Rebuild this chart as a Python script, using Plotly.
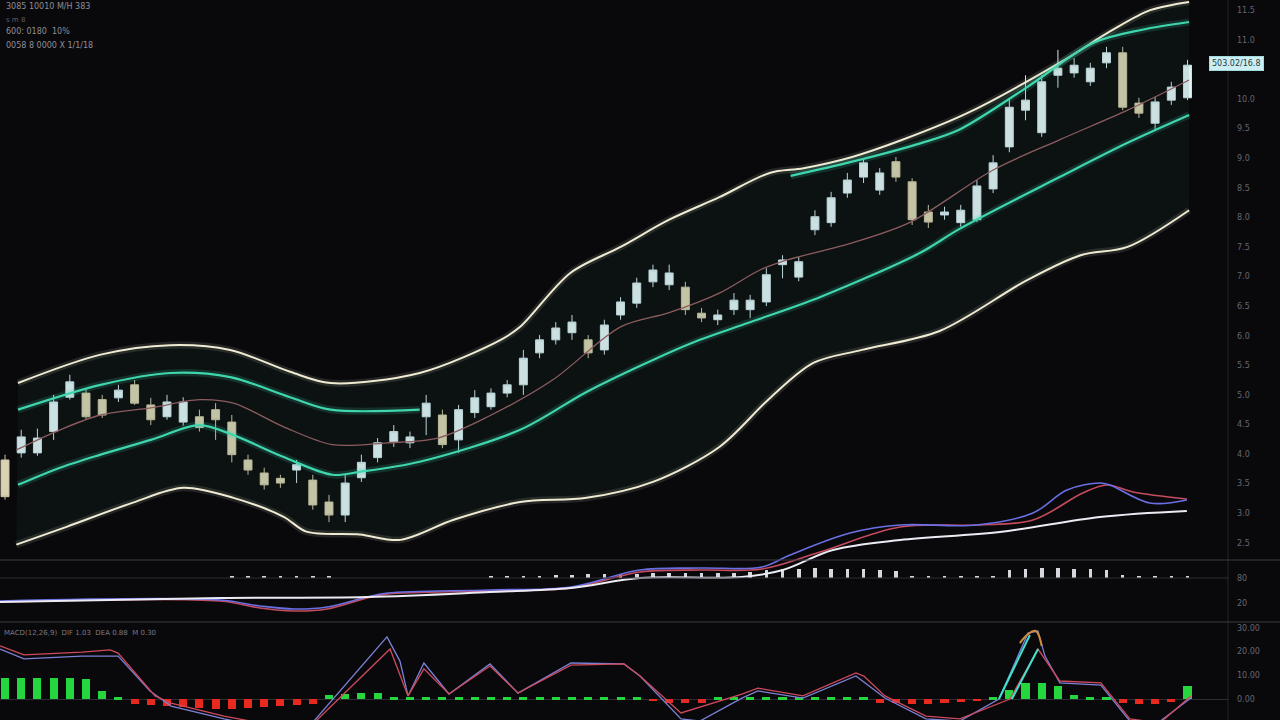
import plotly.graph_objects as go

# ---------------- data ----------------
idx = list(range(74))
open_ = [3.90, 4.02, 4.02, 4.38, 4.96, 5.03, 4.92, 4.95, 5.17, 4.83,
         4.63, 4.54, 4.63, 4.75, 4.54, 3.90, 3.68, 3.59, 3.73, 3.56,
         3.19, 2.97, 3.60, 3.94, 4.21, 4.19, 4.63, 4.66, 4.24, 4.70,
         4.80, 5.03, 5.17, 5.71, 5.93, 6.05, 5.93, 5.76, 6.35, 6.55,
         6.91, 6.86, 6.82, 6.38, 6.27, 6.44, 6.44, 6.57, 7.20, 6.99,
         7.79, 7.91, 8.41, 8.68, 8.46, 8.94, 8.60, 8.09, 8.04, 7.91,
         7.96, 8.48, 9.19, 9.81, 9.43, 10.40, 10.44, 10.29, 10.61, 10.78,
         9.93, 9.59, 9.98, 10.02]
high = [3.99, 4.41, 4.43, 5.00, 5.34, 5.11, 5.00, 5.17, 5.25, 4.95,
        5.00, 4.96, 4.75, 4.86, 4.66, 3.99, 3.77, 3.65, 3.90, 3.65,
        3.31, 3.65, 3.99, 4.27, 4.49, 4.38, 5.00, 4.75, 4.83, 5.08,
        5.11, 5.25, 5.76, 6.01, 6.23, 6.35, 6.01, 6.27, 6.65, 6.98,
        7.20, 7.20, 6.91, 6.47, 6.44, 6.72, 6.69, 7.14, 7.36, 7.33,
        8.12, 8.43, 8.75, 9.00, 8.83, 9.02, 8.66, 8.21, 8.18, 8.21,
        8.63, 9.05, 9.98, 10.40, 10.40, 10.83, 10.69, 10.61, 10.88, 10.88,
        10.02, 10.03, 10.29, 10.66]
low = [3.23, 3.94, 3.97, 4.24, 4.92, 4.58, 4.61, 4.88, 4.83, 4.49,
       4.58, 4.48, 4.38, 4.24, 3.86, 3.65, 3.40, 3.43, 3.51, 3.06,
       2.85, 2.85, 3.53, 3.86, 4.12, 4.10, 4.32, 4.10, 4.02, 4.61,
       4.75, 4.96, 5.00, 5.62, 5.85, 5.93, 5.62, 5.68, 6.27, 6.47,
       6.82, 6.77, 6.35, 6.23, 6.18, 6.35, 6.30, 6.50, 6.97, 6.92,
       7.70, 7.84, 8.33, 8.58, 8.38, 8.60, 7.87, 7.82, 7.96, 7.84,
       7.92, 8.41, 9.10, 9.64, 9.36, 10.19, 10.36, 10.22, 10.52, 9.81,
       9.68, 9.48, 9.90, 9.98]
close = [3.28, 4.29, 4.27, 4.88, 5.22, 4.63, 4.66, 5.08, 4.86, 4.58,
         4.88, 4.88, 4.45, 4.58, 3.99, 3.73, 3.48, 3.51, 3.82, 3.14,
         2.97, 3.51, 3.86, 4.19, 4.38, 4.29, 4.86, 4.16, 4.75, 4.95,
         5.03, 5.17, 5.62, 5.93, 6.13, 6.23, 5.71, 6.18, 6.57, 6.89,
         7.11, 7.06, 6.44, 6.30, 6.35, 6.60, 6.60, 7.03, 7.28, 7.25,
         8.01, 8.33, 8.63, 8.92, 8.75, 8.68, 7.96, 7.92, 8.09, 8.12,
         8.53, 8.92, 9.86, 9.98, 10.29, 10.52, 10.57, 10.52, 10.78, 9.86,
         9.76, 9.95, 10.20, 10.57]

volume = [0, 0, 0, 0, 0, 0, 0, 0, 0, 0, 0, 0, 0, 0,
          4, 4, 5, 4, 4, 5, 4,
          0, 0, 0, 0, 0, 0, 0, 0, 0, 3,
          5, 5, 6, 7, 8, 9, 10, 10,
          10, 11, 11, 12, 12, 12, 13, 14,
          20, 22, 22, 23, 22, 22, 21, 20, 18,
          4, 3, 3, 3, 4, 6,
          20, 22, 23, 23, 22, 22, 20,
          7, 6, 6, 5, 6]
volume_base = 80

hist = [8.9, 8.9, 8.9, 8.9, 8.7, 8.5, 3.5, 0.8, -2.1, -2.5,
        -3.0, -3.4, -4.0, -4.2, -4.2, -3.8, -3.4, -3.0, -2.5, -2.1,
        1.7, 2.1, 2.5, 2.5, 0.8, 0.8, 0.8, 0.8, 0.8, 0.8,
        0.8, 0.8, 0.8, 0.8, 0.8, 0.8, 0.8, 0.8, 0.8, 0.8,
        -0.8, -1.5, -1.7, -1.5, 0.8, 0.8, 0.8, 0.8, 0.8, 0.8,
        0.8, 0.8, 0.8, 0.8, -1.5, -1.7, -2.1, -2.1, -1.7, -1.3,
        -0.8, 0.8, 4.0, 6.8, 6.8, 5.5, 1.5, 0.8, 0.8, -1.7,
        -2.1, -2.1, -1.3, 5.5]

# Bollinger-style bands (knots)
up_outer_x = [0.8, 5.9, 10.2, 13.9, 17.6, 20.1, 25.6, 30.6, 31.8, 34.9, 38.0,
              41.0, 44.1, 47.2, 49.3, 52.3, 55.4, 59.4, 65.1, 68.4, 70.7, 73.1]
up_outer = [5.20, 5.68, 5.84, 5.76, 5.39, 5.20, 5.37, 5.93, 6.15, 7.06, 7.50,
            7.96, 8.34, 8.75, 8.83, 9.02, 9.31, 9.76, 10.61, 11.17, 11.50, 11.64]
up_inner_x = [0.8, 5.9, 10.2, 13.9, 17.6, 20.1, 25.6, None,
              48.5, 52.3, 56.5, 58.9, 63.1, 67.2, 70.2, 73.1]
up_inner = [4.75, 5.17, 5.37, 5.30, 4.96, 4.75, 4.75, None,
            8.70, 8.94, 9.25, 9.48, 10.20, 10.95, 11.17, 11.30]
mid_x = [0.7, 3.4, 5.9, 9.0, 12.0, 14.1, 17.2, 20.2, 23.6, 26.7, 29.8, 33.8,
         38.0, 41.0, 44.1, 46.6, 48.3, 52.3, 55.9, 61.0, 65.1, 69.3, 73.1]
mid = [4.07, 4.41, 4.66, 4.78, 4.92, 4.86, 4.46, 4.16, 4.19, 4.27, 4.63, 5.25,
       6.15, 6.39, 6.72, 7.11, 7.28, 7.57, 7.92, 8.80, 9.31, 9.81, 10.32]
lo_inner_x = [0.8, 3.4, 5.9, 9.0, 12.0, 14.1, 17.2, 20.2, 21.9, 25.6, 31.8,
              35.9, 40.0, 42.9, 45.9, 50.3, 56.5, 58.9, 65.1, 69.3, 73.1]
lo_inner = [3.48, 3.77, 3.99, 4.24, 4.49, 4.32, 3.95, 3.65, 3.70, 3.87, 4.41,
            5.05, 5.59, 5.93, 6.22, 6.65, 7.40, 7.80, 8.68, 9.26, 9.73]
lo_outer_x = [0.7, 3.8, 7.9, 11.0, 14.1, 17.2, 18.6, 21.9, 24.4, 27.7, 31.8,
              35.9, 40.0, 44.1, 47.2, 49.9, 52.9, 57.7, 63.1, 66.4, 69.3, 73.1]
lo_outer = [2.47, 2.77, 3.18, 3.43, 3.26, 2.94, 2.69, 2.64, 2.55, 2.89, 3.19,
            3.26, 3.53, 4.12, 4.94, 5.54, 5.76, 6.08, 6.94, 7.36, 7.50, 8.12]

# volume moving averages (volume axis)
vma_white_x = [-0.31, 13.27, 22.35, 29.94, 34.94, 39.2, 45.49, 48.02, 51.11,
               55.25, 61.42, 67.59, 72.96]
vma_white = [22.4, 32.0, 34.4, 46.4, 56.0, 80.0, 82.4, 99.2, 147.2,
             171.2, 190.4, 226.4, 240.8]
vma_blue_x = [-0.31, 13.27, 15.74, 17.84, 19.88, 22.35, 23.64, 29.94, 34.94,
              39.2, 42.96, 46.73, 48.46, 52.16, 55.25, 60.0, 63.46, 65.56,
              67.59, 68.21, 70.68, 72.96]
vma_blue = [24.8, 27.2, 12.8, 5.6, 10.4, 34.4, 44.0, 51.2, 58.4,
            99.2, 104.0, 106.4, 135.2, 188.0, 207.2, 207.2, 236.0, 291.2,
            308.0, 303.2, 260.0, 267.2]
vma_red_x = [-0.31, 13.27, 15.74, 17.84, 19.88, 22.35, 23.64, 29.94, 34.94,
             39.2, 42.96, 46.73, 50.31, 55.25, 60.0, 63.46, 66.54, 68.02,
             69.63, 72.96]
vma_red = [22.4, 24.8, 8.0, 0.8, 5.6, 32.0, 41.6, 48.8, 56.0,
           94.4, 99.2, 101.6, 142.4, 202.4, 207.2, 219.2, 284.0, 303.2,
           286.4, 269.6]

# oscillator lines
dif_x = [-0.31, 1.17, 4.75, 6.98, 8.95, 10.25, 13.52, 15.74, 18.2, 19.07,
         23.58, 24.38, 24.88, 25.86, 27.41, 29.94, 31.67, 34.94, 38.21, 39.2,
         41.73, 42.9, 45.49, 46.48, 49.26, 52.53, 54.32, 56.85, 58.95, 61.36,
         63.15, 63.77, 64.2, 65.12, 67.65, 69.44, 71.17, 73.21]
dif = [21.1, 16.9, 18.1, 18.1, 3.4, -3.0, -8.4, -11.4, -11.4, -9.3,
       26.2, 16.0, 1.3, 15.2, 2.1, 14.8, 2.5, 15.2, 14.8, 9.7,
       -8.4, -9.3, 0.4, 3.4, 0.4, 9.7, 0.4, -8.4, -9.3, 0.0,
       27.8, 28.7, 18.1, 6.8, 5.9, -9.3, -10.1, 0.4]
dea_x = [-0.31, 1.17, 4.75, 6.48, 6.98, 9.26, 10.25, 13.52, 15.74, 19.07,
         23.77, 24.88, 25.86, 27.41, 29.94, 31.67, 34.94, 38.21, 39.2, 41.73,
         45.49, 46.48, 49.26, 52.53, 53.02, 54.32, 56.85, 58.95, 62.04, 63.77,
         65.12, 67.65, 69.44, 71.3, 73.21]
dea = [22.4, 18.6, 19.8, 20.7, 19.4, 1.3, -1.7, -7.2, -10.1, -10.1,
       21.1, 1.3, 12.7, 2.1, 13.9, 2.5, 14.3, 14.8, 9.7, -5.9,
       2.1, 4.6, 1.3, 11.0, 9.7, 1.3, -7.2, -8.4, 0.0, 21.1,
       7.6, 6.8, -8.4, -10.1, 1.3]
spike_cyan_x = [61.36, 63.27, None, 62.16, 63.77]
spike_cyan = [0.0, 27.0, None, 0.0, 21.1]
spike_orange_x = [62.65, 63.15, 63.64, 64.0]
spike_orange = [23.6, 27.4, 28.7, 22.4]

# the 10.5 label sits under the price tag in the reference
price_ticks = [2.5, 3.0, 3.5, 4.0, 4.5, 5.0, 5.5, 6.0, 6.5, 7.0, 7.5, 8.0,
               8.5, 9.0, 9.5, 10.0, 11.0, 11.5]
volume_ticks = [20, 80]
osc_ticks = [0, 10, 20, 30]

header_lines = ["3085 10010 M/H 383", "s m 8", "600: 0180  10%", "0058 8 0000 X 1/1/18"]
osc_label = "MACD(12,26,9)  DIF 1.03  DEA 0.88  M 0.30"
price_tag = "503.02/16.8"

# ---------------- figure ----------------
BG = "#09090c"
CREAM = "#efebd2"
TEAL = "#3fd6ae"
fig = go.Figure()

# band shading
fig.add_trace(go.Scatter(x=lo_outer_x, y=lo_outer, mode="lines",
                         line=dict(width=0, shape="spline", smoothing=0.9),
                         hoverinfo="skip", showlegend=False))
fig.add_trace(go.Scatter(x=up_outer_x, y=up_outer, mode="lines",
                         line=dict(width=0, shape="spline", smoothing=0.9),
                         fill="tonexty", fillcolor="rgba(38,88,68,0.12)",
                         hoverinfo="skip", showlegend=False))

def band(xs, ys, color, width, glow):
    fig.add_trace(go.Scatter(x=xs, y=ys, mode="lines",
                             line=dict(color=glow, width=width + 5, shape="spline",
                                       smoothing=0.9),
                             hoverinfo="skip", showlegend=False, connectgaps=False))
    fig.add_trace(go.Scatter(x=xs, y=ys, mode="lines",
                             line=dict(color=color, width=width, shape="spline",
                                       smoothing=0.9),
                             hoverinfo="skip", showlegend=False, connectgaps=False))

band(up_outer_x, up_outer, CREAM, 2, "rgba(239,235,210,0.12)")
band(lo_outer_x, lo_outer, CREAM, 2, "rgba(239,235,210,0.12)")
band(up_inner_x, up_inner, TEAL, 2.2, "rgba(63,214,174,0.16)")
band(lo_inner_x, lo_inner, TEAL, 2.2, "rgba(63,214,174,0.16)")
fig.add_trace(go.Scatter(x=mid_x, y=mid, mode="lines",
                         line=dict(color="#8c5c60", width=1.3, shape="spline",
                                   smoothing=0.9),
                         hoverinfo="skip", showlegend=False))

fig.add_trace(go.Candlestick(
    x=idx, open=open_, high=high, low=low, close=close,
    increasing=dict(line=dict(color="#cfe6ee", width=1), fillcolor="#e2f3f7"),
    decreasing=dict(line=dict(color="#cdc6a6", width=1), fillcolor="#d9d3b3"),
    whiskerwidth=0, showlegend=False, hoverinfo="skip"))

# volume panel (its axis also spans the price area)
fig.add_trace(go.Bar(x=idx, y=volume, base=volume_base, width=0.22,
                     marker=dict(color="#d6d6dc", line=dict(width=0)),
                     yaxis="y2", showlegend=False, hoverinfo="skip"))
fig.add_trace(go.Scatter(x=vma_red_x, y=vma_red, mode="lines", yaxis="y2",
                         line=dict(color="#c54c5e", width=1.6, shape="spline"),
                         showlegend=False, hoverinfo="skip"))
fig.add_trace(go.Scatter(x=vma_blue_x, y=vma_blue, mode="lines", yaxis="y2",
                         line=dict(color="#6a70e4", width=1.6, shape="spline"),
                         showlegend=False, hoverinfo="skip"))
fig.add_trace(go.Scatter(x=vma_white_x, y=vma_white, mode="lines", yaxis="y2",
                         line=dict(color="#ecebf4", width=2, shape="spline"),
                         showlegend=False, hoverinfo="skip"))

# oscillator panel
fig.add_trace(go.Bar(x=idx, y=hist, width=0.5, yaxis="y3",
                     marker=dict(color=["#25d63c" if h >= 0 else "#e8291f" for h in hist],
                                 line=dict(width=0)),
                     showlegend=False, hoverinfo="skip"))
fig.add_trace(go.Scatter(x=dif_x, y=dif, mode="lines", yaxis="y3",
                         line=dict(color="#7c82d6", width=1.3),
                         showlegend=False, hoverinfo="skip"))
fig.add_trace(go.Scatter(x=dea_x, y=dea, mode="lines", yaxis="y3",
                         line=dict(color="#cf4a5c", width=1.3),
                         showlegend=False, hoverinfo="skip"))
fig.add_trace(go.Scatter(x=spike_cyan_x, y=spike_cyan, mode="lines", yaxis="y3",
                         line=dict(color="#3fe2cc", width=2), connectgaps=False,
                         showlegend=False, hoverinfo="skip"))
fig.add_trace(go.Scatter(x=spike_orange_x, y=spike_orange, mode="lines", yaxis="y3",
                         line=dict(color="#d28a3e", width=2, shape="spline"),
                         showlegend=False, hoverinfo="skip"))

tickfont = dict(family="DejaVu Sans", size=8, color="#66666e")
axis_common = dict(side="right", anchor="x", showgrid=False, zeroline=False,
                   ticks="", ticklabelstandoff=8, tickfont=tickfont, fixedrange=True)

P_MAIN = 1 - 560 / 720
P_VOL = 1 - 622 / 720

fig.update_layout(
    width=1280, height=720,
    margin=dict(l=0, r=52, t=0, b=0),
    paper_bgcolor=BG, plot_bgcolor="rgba(0,0,0,0)",
    showlegend=False, bargap=0,
    xaxis=dict(domain=[0, 1], range=[-0.31, 75.5], visible=False,
               rangeslider=dict(visible=False), fixedrange=True),
    yaxis=dict(domain=[P_MAIN, 1], range=[2.21, 11.672], tickvals=price_ticks,
               tickformat=".1f", **axis_common),
    yaxis2=dict(domain=[P_VOL, 1], range=[-25.6, 1467.2], tickvals=volume_ticks,
                **axis_common),
    yaxis3=dict(domain=[0, P_VOL], range=[-8.86, 32.5], tickvals=osc_ticks,
                tickformat=".2f", **{**axis_common, "zeroline": True},
                zerolinecolor="#2c2c33", zerolinewidth=1),
    shapes=[
        dict(type="line", xref="paper", yref="paper", x0=1, x1=1, y0=0, y1=1,
             line=dict(color="#24242a", width=1)),
        dict(type="line", xref="paper", yref="paper", x0=0, x1=1.05,
             y0=P_MAIN, y1=P_MAIN, line=dict(color="#3a3a42", width=1)),
        dict(type="line", xref="paper", yref="paper", x0=0, x1=1.05,
             y0=P_VOL, y1=P_VOL, line=dict(color="#3a3a42", width=1)),
        dict(type="line", xref="paper", yref="y2", x0=0, x1=1,
             y0=volume_base, y1=volume_base, line=dict(color="#2c2c33", width=1)),
    ],
)

ann = []
for k, (txt, ypx) in enumerate(zip(header_lines, [7, 20, 32, 45])):
    ann.append(dict(xref="paper", yref="paper", x=4 / 1228, y=1 - ypx / 720,
                    xanchor="left", yanchor="middle", showarrow=False, text=txt,
                    font=dict(family="DejaVu Sans", size=8 if k != 1 else 7,
                              color="#8e8e96" if k != 1 else "#5e5e66")))
ann.append(dict(xref="paper", yref="paper", x=2 / 1228, y=1 - 633 / 720,
                xanchor="left", yanchor="middle", showarrow=False, text=osc_label,
                font=dict(family="DejaVu Sans", size=7, color="#7a7a82")))
ann.append(dict(xref="paper", yref="paper", x=1236 / 1228, y=1 - 63 / 720,
                xanchor="center", yanchor="middle", showarrow=False, text=price_tag,
                bgcolor="#cdeef1", bordercolor="#9fdde2", borderwidth=1, borderpad=2,
                font=dict(family="DejaVu Sans", size=8, color="#1e3a44")))
fig.update_layout(annotations=ann)

fig.write_html("out.html", config={"displayModeBar": False},
               post_script="document.body.style.margin='0';document.body.style.overflow='hidden';")
